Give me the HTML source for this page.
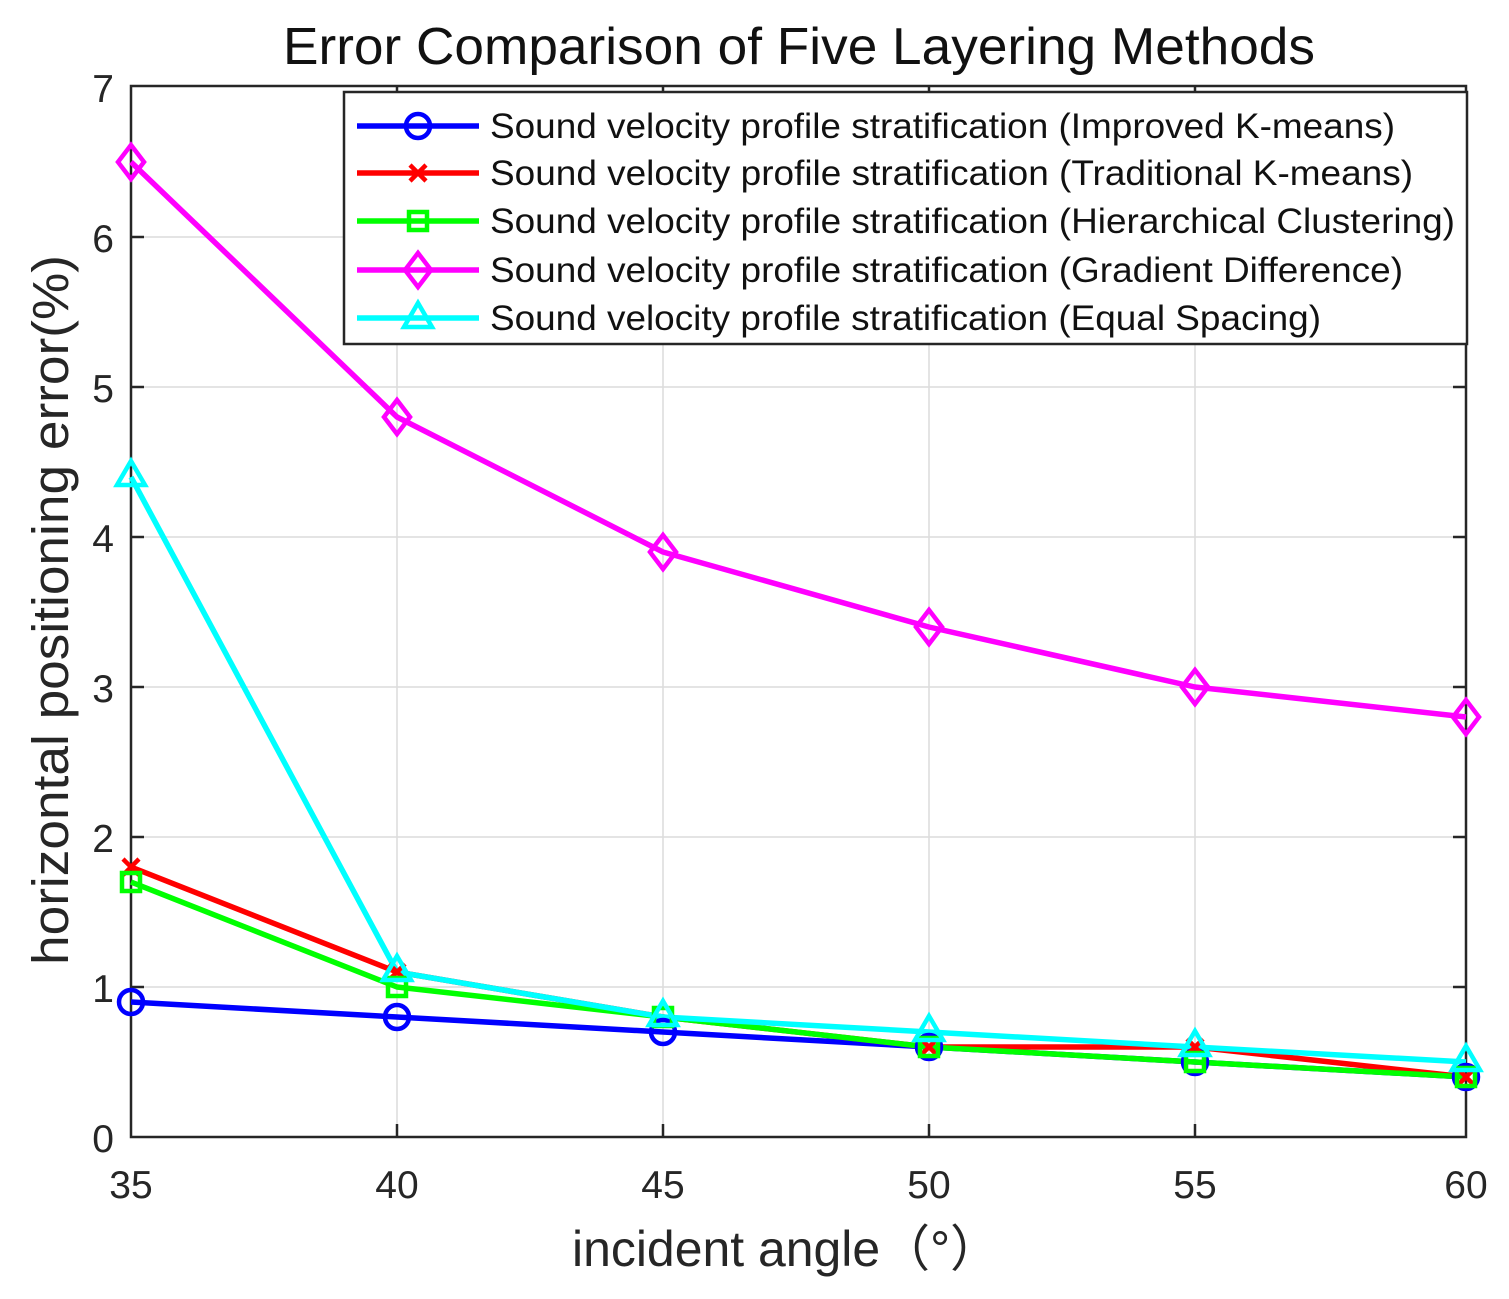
<!DOCTYPE html>
<html><head><meta charset="utf-8"><style>body{margin:0;background:#fff}svg{display:block}</style></head>
<body>
<svg width="1509" height="1299" viewBox="0 0 1509 1299" xmlns="http://www.w3.org/2000/svg" font-family="Liberation Sans, Noto Sans CJK SC, sans-serif">
<rect width="1509" height="1299" fill="#fff"/>
<g stroke="#dcdcdc" stroke-width="1.5">
<line x1="397" y1="86" x2="397" y2="1137"/><line x1="663" y1="86" x2="663" y2="1137"/><line x1="929" y1="86" x2="929" y2="1137"/><line x1="1195" y1="86" x2="1195" y2="1137"/>
<line x1="131" y1="987" x2="1466" y2="987"/><line x1="131" y1="837" x2="1466" y2="837"/><line x1="131" y1="687" x2="1466" y2="687"/><line x1="131" y1="537" x2="1466" y2="537"/><line x1="131" y1="387" x2="1466" y2="387"/><line x1="131" y1="237" x2="1466" y2="237"/>
</g>
<rect x="131" y="86" width="1335" height="1051" fill="none" stroke="#262626" stroke-width="2.5"/>
<g stroke="#262626" stroke-width="2.5">
<line x1="397" y1="1137" x2="397" y2="1124"/><line x1="663" y1="1137" x2="663" y2="1124"/><line x1="929" y1="1137" x2="929" y2="1124"/><line x1="1195" y1="1137" x2="1195" y2="1124"/>
<line x1="397" y1="86" x2="397" y2="99"/><line x1="663" y1="86" x2="663" y2="99"/><line x1="929" y1="86" x2="929" y2="99"/><line x1="1195" y1="86" x2="1195" y2="99"/>
<line x1="131" y1="987" x2="144" y2="987"/><line x1="131" y1="837" x2="144" y2="837"/><line x1="131" y1="687" x2="144" y2="687"/><line x1="131" y1="537" x2="144" y2="537"/><line x1="131" y1="387" x2="144" y2="387"/><line x1="131" y1="237" x2="144" y2="237"/>
<line x1="1466" y1="987" x2="1453" y2="987"/><line x1="1466" y1="837" x2="1453" y2="837"/><line x1="1466" y1="687" x2="1453" y2="687"/><line x1="1466" y1="537" x2="1453" y2="537"/><line x1="1466" y1="387" x2="1453" y2="387"/><line x1="1466" y1="237" x2="1453" y2="237"/>
</g>
<g font-size="39" fill="#262626" text-anchor="middle">
<text x="131" y="1198">35</text><text x="397" y="1198">40</text><text x="663" y="1198">45</text><text x="929" y="1198">50</text><text x="1195" y="1198">55</text><text x="1466" y="1198">60</text>
</g>
<g font-size="39" fill="#262626" text-anchor="end">
<text x="114" y="1152">0</text><text x="114" y="1002">1</text><text x="114" y="852">2</text><text x="114" y="702">3</text><text x="114" y="552">4</text><text x="114" y="402">5</text><text x="114" y="252">6</text><text x="114" y="102">7</text>
</g>
<text x="283" y="64" font-size="52" fill="#111" textLength="1032" lengthAdjust="spacingAndGlyphs">Error Comparison of Five Layering Methods</text>
<text x="572" y="1266" font-size="50" fill="#262626" textLength="428" lengthAdjust="spacingAndGlyphs">incident angle（°）</text>
<text transform="translate(68,610) rotate(-90)" font-size="51" text-anchor="middle" fill="#262626" textLength="710" lengthAdjust="spacingAndGlyphs">horizontal positioning error(%)</text>

<g fill="none" stroke-width="5.5" stroke-linejoin="round">
<polyline stroke="#0000ff" points="131,1002 397,1017 663,1032 929,1047 1195,1062 1466,1077"/>
<polyline stroke="#ff0000" points="131,867 397,972 663,1017 929,1047 1195,1047 1466,1077"/>
<polyline stroke="#00ff00" points="131,882 397,987 663,1017 929,1047 1195,1062 1466,1077"/>
<polyline stroke="#ff00ff" points="131,162 397,417 663,552 929,627 1195,687 1466,717"/>
<polyline stroke="#00ffff" points="131,477 397,972 663,1017 929,1032 1195,1047 1466,1062"/>
</g>
<g fill="none" stroke-width="4.5">
<g stroke="#0000ff"><circle cx="131" cy="1002" r="12"/><circle cx="397" cy="1017" r="12"/><circle cx="663" cy="1032" r="12"/><circle cx="929" cy="1047" r="12"/><circle cx="1195" cy="1062" r="12"/><circle cx="1466" cy="1077" r="12"/></g>
<g stroke="#ff0000"><path d="M123,859l16,16M139,859l-16,16M389,964l16,16M405,964l-16,16M1458,1069l16,16M1474,1069l-16,16M921,1039l16,16M937,1039l-16,16M1187,1039l16,16M1203,1039l-16,16"/></g>
<g stroke="#00ff00"><rect x="122" y="873" width="18" height="18"/><rect x="388" y="978" width="18" height="18"/><rect x="654" y="1008" width="18" height="18"/><rect x="920" y="1038" width="18" height="18"/><rect x="1186" y="1053" width="18" height="18"/><rect x="1457" y="1068" width="18" height="18"/></g>
<g stroke="#ff00ff"><path d="M131,145l13,17l-13,17l-13,-17z M397,400l13,17l-13,17l-13,-17z M663,535l13,17l-13,17l-13,-17z M929,610l13,17l-13,17l-13,-17z M1195,670l13,17l-13,17l-13,-17z M1466,700l13,17l-13,17l-13,-17z"/></g>
<g stroke="#00ffff"><path d="M131,461l14,24h-28z M397,956l14,24h-28z M663,1001l14,24h-28z M929,1016l14,24h-28z M1195,1031l14,24h-28z M1466,1046l14,24h-28z"/></g>
</g>

<rect x="344" y="92" width="1123" height="252" fill="#fff" stroke="#262626" stroke-width="2.5"/>
<g stroke-width="5.5" fill="none">
<line x1="357" y1="126" x2="479" y2="126" stroke="#0000ff"/><circle cx="418" cy="126" r="12" stroke="#0000ff" stroke-width="4.5"/>
<line x1="357" y1="173" x2="479" y2="173" stroke="#ff0000"/><path d="M410,165l16,16M426,165l-16,16" stroke="#ff0000" stroke-width="4.5"/>
<line x1="357" y1="221" x2="479" y2="221" stroke="#00ff00"/><rect x="409" y="212" width="18" height="18" stroke="#00ff00" stroke-width="4.5"/>
<line x1="357" y1="270" x2="479" y2="270" stroke="#ff00ff"/><path d="M418,253l13,17l-13,17l-13,-17z" stroke="#ff00ff" stroke-width="4.5"/>
<line x1="357" y1="318" x2="479" y2="318" stroke="#00ffff"/><path d="M418,303l14,24h-28z" stroke="#00ffff" stroke-width="4.5"/>
</g>
<g font-size="35" fill="#111">
<text x="490" y="138" textLength="905" lengthAdjust="spacingAndGlyphs">Sound velocity profile stratification (Improved K-means)</text>
<text x="490" y="185" textLength="923" lengthAdjust="spacingAndGlyphs">Sound velocity profile stratification (Traditional K-means)</text>
<text x="490" y="233" textLength="965" lengthAdjust="spacingAndGlyphs">Sound velocity profile stratification (Hierarchical Clustering)</text>
<text x="490" y="282" textLength="913" lengthAdjust="spacingAndGlyphs">Sound velocity profile stratification (Gradient Difference)</text>
<text x="490" y="330" textLength="831" lengthAdjust="spacingAndGlyphs">Sound velocity profile stratification (Equal Spacing)</text>
</g>
</svg>
</body></html>
